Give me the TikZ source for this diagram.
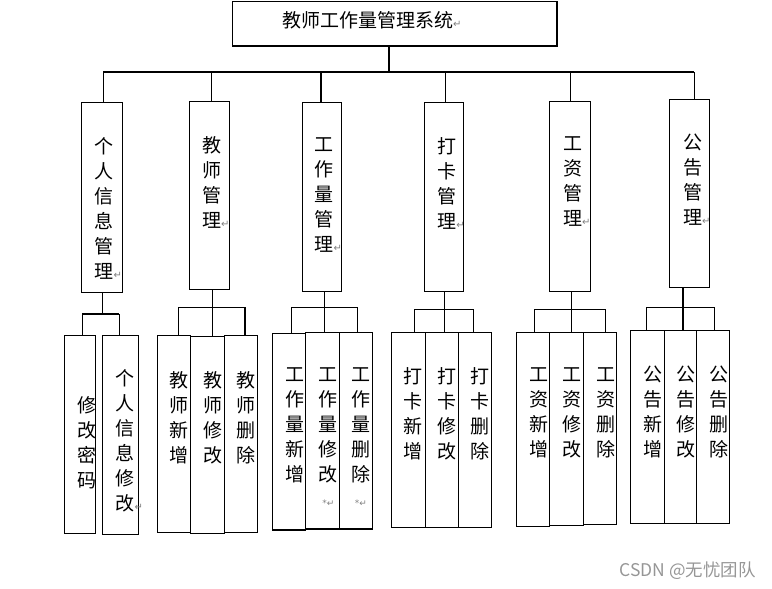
\documentclass[tikz,border=0pt]{standalone}
\usepackage{fontspec}
\setmainfont{Noto Sans CJK SC}
\newfontfamily\cjk{Noto Sans CJK SC}
\newfontfamily\djv{DejaVu Sans}
\definecolor{retgray}{RGB}{128,128,128}
\definecolor{wmgray}{RGB}{150,150,150}
\newcommand\rt{\makebox[0pt][l]{\djv\fontsize{10}{10}\selectfont\color{retgray}↵}}
\newcommand\strt{{\djv\fontsize{9}{9}\selectfont\color{retgray}*↵}}
\tikzset{
 boxst/.style={draw=black, line width=1.2pt, inner sep=0pt, rectangle},
 vtxt/.style={font=\cjk\fontsize{19}{25}\selectfont, align=center, inner sep=0pt, text=black, anchor=north},
 ttl/.style={font=\cjk\fontsize{19}{25}\selectfont, inner sep=0pt, text=black},
 ln/.style={line width=1.2pt, draw=black},
 wm/.style={font=\cjk\fontsize{17.5}{17.5}\selectfont, inner sep=0pt, text=wmgray},
}
\newcommand\bx[5]{\node[boxst, minimum width={(#4-#2)*1pt}, minimum height={(#5-#3)*1pt}] (#1) at ({(#2+#4)/2},{(#3+#5)/2}) {};}
\newcommand\vt[4]{\node[vtxt] (#1) at (#2,#3) {#4};}
% two-child group: parent, hy, px, ax, bx, childA, childB
\newcommand\grptwo[7]{%
 \coordinate (#1-h) at (0,#2);
 \coordinate (#1-p) at (#3,0);
 \coordinate (#1-a) at (#4,0);
 \coordinate (#1-b) at (#5,0);
 \draw[ln] (#1-p |- #1.south) -- (#1-p |- #1-h);
 \draw[ln] (#1-a |- #1-h) -- (#1-b |- #1-h);
 \draw[ln] (#1-a |- #1-h) -- (#1-a |- #6.north);
 \draw[ln] (#1-b |- #1-h) -- (#1-b |- #7.north);
}
% three-child group: parent, hy, px, ax, cx, childA, childM, childC
\newcommand\grpthree[8]{%
 \coordinate (#1-h) at (0,#2);
 \coordinate (#1-p) at (#3,0);
 \coordinate (#1-a) at (#4,0);
 \coordinate (#1-c) at (#5,0);
 \draw[ln] (#1-p |- #1.south) -- (#1-p |- #7.north);
 \draw[ln] (#1-a |- #1-h) -- (#1-c |- #1-h);
 \draw[ln] (#1-a |- #1-h) -- (#1-a |- #6.north);
 \draw[ln] (#1-c |- #1-h) -- (#1-c |- #8.north);
}
\begin{document}
\begin{tikzpicture}[x=1pt,y=-1pt]
\useasboundingbox (0,0) rectangle (772,589);
% top
\bx{top}{232.5}{1.5}{557}{46}
\node[ttl, anchor=west] (title) at (282,20) {教师工作量管理系统\rt};
% level 2
\bx{b1}{81.3}{102.3}{122.3}{292.3}
\bx{b2}{189.3}{101.3}{229.3}{289.3}
\bx{b3}{302.3}{102.3}{341.3}{291.3}
\bx{b4}{424.3}{102.3}{463.3}{291.3}
\bx{b5}{549.3}{101.3}{590.3}{291.3}
\bx{b6}{669.3}{99.3}{709.3}{287.3}
\vt{t1}{104}{137.7}{个\\人\\信\\息\\管\\理\rt}
\vt{t2}{211.7}{136}{教\\师\\管\\理\rt}
\vt{t3}{324}{137.7}{工\\作\\量\\管\\理\rt}
\vt{t4}{446.8}{137.7}{打\\卡\\管\\理\rt}
\vt{t5}{572.5}{136.7}{工\\资\\管\\理\rt}
\vt{t6}{692.5}{134}{公\\告\\管\\理\rt}
% bus
\coordinate (busL) at (103.3,72);
\coordinate (busR) at (694.3,72);
\coordinate (tj) at (389,0);
\draw[ln] (busL) -- (busR);
\draw[ln] (tj |- top.south) -- (tj |- busL);
\coordinate (d1) at (103.3,0);
\coordinate (d2) at (211.7,0);
\coordinate (d3) at (321,0);
\coordinate (d4) at (445.7,0);
\coordinate (d5) at (570.7,0);
\coordinate (d6) at (694.3,0);
\draw[ln] (d1 |- busL) -- (d1 |- b1.north);
\draw[ln] (d2 |- busL) -- (d2 |- b2.north);
\draw[ln] (d3 |- busL) -- (d3 |- b3.north);
\draw[ln] (d4 |- busL) -- (d4 |- b4.north);
\draw[ln] (d5 |- busL) -- (d5 |- b5.north);
\draw[ln] (d6 |- busL) -- (d6 |- b6.north);
% level 3 boxes
\bx{l11}{64.3}{335.3}{95.7}{533.3}
\bx{l12}{102.3}{335.3}{138.3}{534.3}
\bx{l21}{157.3}{335.3}{190.3}{532.3}
\bx{l22}{190.3}{336.3}{224.3}{533.3}
\bx{l23}{224.3}{335.3}{257.3}{532.3}
\bx{l31}{272.3}{333.3}{305.7}{530}
\bx{l32}{305.7}{332.3}{339.3}{529}
\bx{l33}{339.3}{332.3}{372.3}{529}
\bx{l41}{391.7}{332.3}{425.7}{527.3}
\bx{l42}{425.7}{332.3}{458.7}{527.3}
\bx{l43}{458.7}{332.3}{491.3}{527.3}
\bx{l51}{516.3}{332.3}{549.7}{526.3}
\bx{l52}{549.7}{332.3}{583.3}{525.3}
\bx{l53}{583.3}{332.3}{616.3}{524.3}
\bx{l61}{630.3}{330.3}{664.3}{523.3}
\bx{l62}{664.3}{330.3}{696.7}{523.3}
\bx{l63}{696.7}{330.3}{729.3}{523.3}
% level 3 texts
\vt{s11}{86.7}{396}{修\\改\\密\\码}
\vt{s12}{125}{369.3}{个\\人\\信\\息\\修\\改\rt}
\vt{s21}{179.3}{371}{教\\师\\新\\增}
\vt{s22}{213.3}{371}{教\\师\\修\\改}
\vt{s23}{246}{371}{教\\师\\删\\除}
\vt{s31}{295}{367.7}{工\\作\\量\\新\\增}
\vt{s32}{328.3}{367.7}{工\\作\\量\\修\\改\\\strt}
\vt{s33}{361}{367.7}{工\\作\\量\\删\\除\\\strt}
\vt{s41}{413.3}{367.7}{打\\卡\\新\\增}
\vt{s42}{446.7}{367.7}{打\\卡\\修\\改}
\vt{s43}{480}{367.7}{打\\卡\\删\\除}
\vt{s51}{539}{367.7}{工\\资\\新\\增}
\vt{s52}{572.3}{367.7}{工\\资\\修\\改}
\vt{s53}{605.7}{367.7}{工\\资\\删\\除}
\vt{s61}{652.7}{366}{公\\告\\新\\增}
\vt{s62}{686}{366}{公\\告\\修\\改}
\vt{s63}{719}{366}{公\\告\\删\\除}
% groups
\grptwo{b1}{314}{102.3}{82.3}{119.3}{l11}{l12}
\grpthree{b2}{307.3}{212.3}{178.3}{245}{l21}{l22}{l23}
\grpthree{b3}{307.3}{324.3}{291.7}{357.3}{l31}{l32}{l33}
\grpthree{b4}{309.3}{444.3}{414.3}{473.3}{l41}{l42}{l43}
\grpthree{b5}{309.3}{571.3}{534.7}{605.7}{l51}{l52}{l53}
\grpthree{b6}{307.3}{683}{646.7}{714.3}{l61}{l62}{l63}
% watermark
\node[wm] (wmk) at (687.5,571) {CSDN @无忧团队};
\end{tikzpicture}
\end{document}
